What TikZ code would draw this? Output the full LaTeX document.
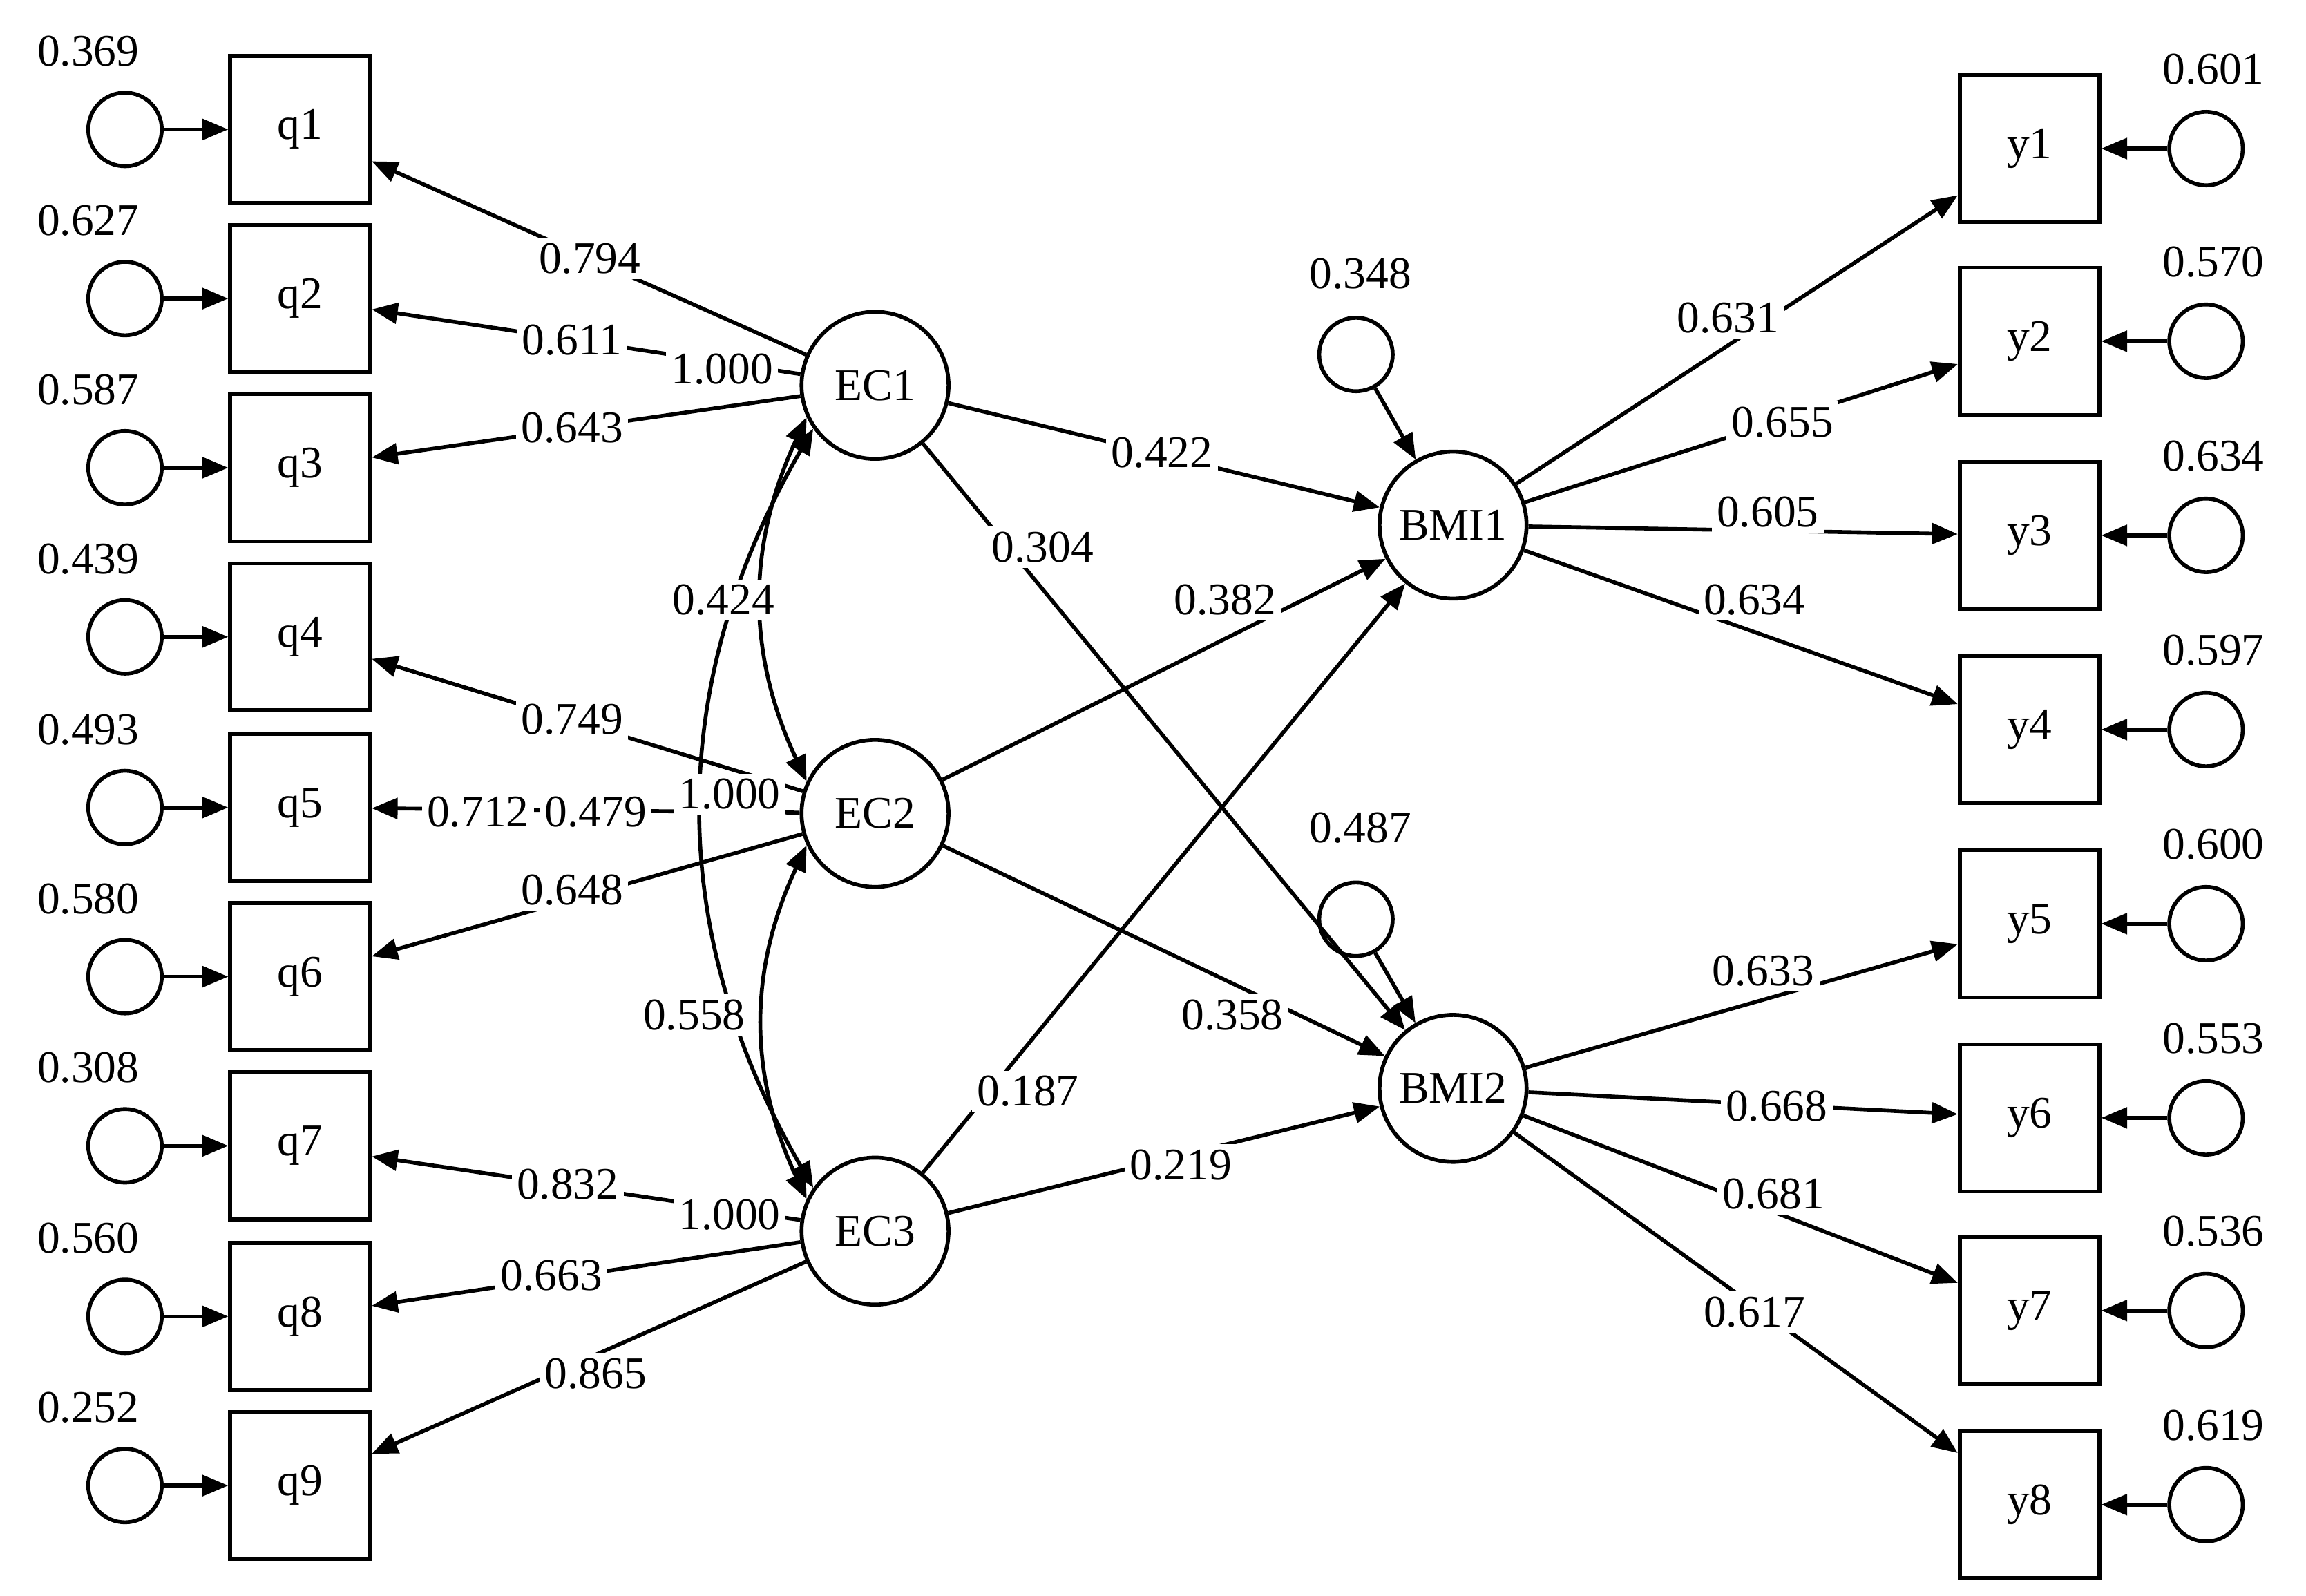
\documentclass[tikz,border=0pt]{standalone}
\usepackage{fontspec}
\setmainfont{Liberation Serif}
\usetikzlibrary{arrows.meta}
\begin{document}
\begin{tikzpicture}[x=0.02cm,y=-0.02cm,
  font=\fontsize{17.5}{20}\selectfont,
  every path/.style={line width=1.5pt},
  box/.style={draw,line width=1.5pt,minimum width=1.9cm,minimum height=2.0cm,inner sep=0pt},
  err/.style={draw,circle,line width=1.5pt,minimum size=1.0cm,inner sep=0pt},
  lat/.style={draw,circle,line width=1.5pt,minimum size=2.0cm,inner sep=0pt},
  arr/.style={-{Triangle[length=10pt,width=8pt]}},
  darr/.style={{Triangle[length=10pt,width=8pt]}-{Triangle[length=10pt,width=8pt]}},
  lab/.style={fill=white,inner sep=2pt}]
\useasboundingbox (0,0) rectangle (1568,1085);
% left indicators
\foreach \i/\y/\v in {1/88/0.369,2/203/0.627,3/318/0.587,4/433/0.439,5/549/0.493,6/664/0.580,7/779/0.308,8/895/0.560,9/1010/0.252}{
  \node[box] (q\i) at (204,\y) {q\i};
  \node[err] (eq\i) at (85,\y) {};
  \node (veq\i) at (60,\y-53) {\v};
  \draw[arr] (eq\i) -- (q\i);
}
% right indicators
\foreach \i/\y/\v in {1/101/0.601,2/232/0.570,3/364/0.634,4/496/0.597,5/628/0.600,6/760/0.553,7/891/0.536,8/1023/0.619}{
  \node[box] (y\i) at (1380,\y) {y\i};
  \node[err] (ey\i) at (1500,\y) {};
  \node (vey\i) at (1505,\y-54) {\v};
  \draw[arr] (ey\i) -- (y\i);
}
\node[lat] (EC1) at (595,262) {EC1};
\node[lat] (EC2) at (595,553) {EC2};
\node[lat] (EC3) at (595,837) {EC3};
\node[lat] (BMI1) at (988,357) {BMI1};
\node[lat] (BMI2) at (988,740) {BMI2};
\node[err] (e1) at (922,241) {};
\node[err] (e2) at (922,625) {};
\node at (925,186) {0.348};
\node at (925,563) {0.487};
\draw[arr] (e1) -- (BMI1);
\draw[arr] (e2) -- (BMI2);
% correlations
\draw[darr] (EC1.205) to[bend right=25] (EC2.155);
\draw[darr] (EC2.205) to[bend right=25] (EC3.155);
\draw[darr] (EC1.215) to[bend right=30] (EC3.145);
% loadings
\foreach \e/\q in {EC1/q1,EC1/q2,EC1/q3,EC2/q4,EC2/q5,EC2/q6,EC3/q7,EC3/q8,EC3/q9}{\draw[arr] (\e) -- (\q);}
\foreach \q in {y1,y2,y3,y4}{\draw[arr] (BMI1) -- (\q);}
\foreach \q in {y5,y6,y7,y8}{\draw[arr] (BMI2) -- (\q);}
% structural
\draw[arr] (EC1) -- (BMI1);
\draw[arr] (EC1) -- (BMI2);
\draw[arr] (EC2) -- (BMI1);
\draw[arr] (EC2) -- (BMI2);
\draw[arr] (EC3) -- (BMI1);
\draw[arr] (EC3) -- (BMI2);
% labels
\foreach \x/\y/\t in {401/176/0.794,389/231/0.611,389/291/0.643,491/251/1.000,
  389/489/0.749,325/552/0.712,389/605/0.648,496/540/1.000,405/552/0.479,
  492/408/0.424,472/690/0.558,
  386/805/0.832,375/867/0.663,405/934/0.865,496/826/1.000,
  790/308/0.422,709/372/0.304,833/408/0.382,838/690/0.358,699/742/0.187,803/792/0.219,
  1175/216/0.631,1212/287/0.655,1202/348/0.605,1193/408/0.634,
  1199/660/0.633,1208/752/0.668,1206/812/0.681,1193/892/0.617}{
  \node[lab] at (\x,\y) {\t};
}
\end{tikzpicture}
\end{document}
